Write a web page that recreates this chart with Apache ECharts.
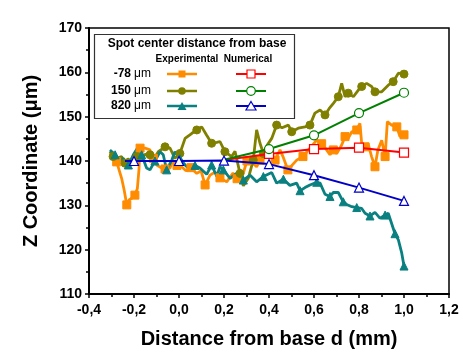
<!DOCTYPE html>
<html><head><meta charset="utf-8">
<script src="https://cdn.jsdelivr.net/npm/echarts@6/dist/echarts.min.js"></script>
<style>html,body{margin:0;padding:0;background:#fff}#c{width:474px;height:356px}</style>
</head><body><div id="c"></div>
<script>
// ---- data ----
const xTicks = [-0.4, -0.2, 0.0, 0.2, 0.4, 0.6, 0.8, 1.0, 1.2];
const yTicks = [110, 120, 130, 140, 150, 160, 170];

const expM78X = [-0.298,-0.277,-0.255,-0.244,-0.232,-0.222,-0.210,-0.196,-0.185,-0.178,-0.173,-0.151,-0.129,-0.114,-0.099,-0.077,-0.062,-0.040,-0.027,-0.009,0.009,0.031,0.053,0.079,0.098,0.116,0.138,0.160,0.182,0.212,0.240,0.258,0.271,0.284,0.302,0.329,0.345,0.360,0.390,0.404,0.427,0.449,0.462,0.484,0.502,0.523,0.551,0.582,0.612,0.634,0.656,0.671,0.686,0.701,0.723,0.738,0.752,0.768,0.790,0.804,0.812,0.827,0.840,0.856,0.871,0.884,0.901,0.916,0.926,0.945,0.968,0.982,1.0];
const expM78Y = [142.1,139.8,136.1,133.5,130.1,131.2,131.6,132.3,133.8,138.0,142.9,142.9,142.5,140.6,139.1,138.4,138.2,138.4,140.2,139.0,138.8,137.8,138.5,137.2,137.8,134.6,136.8,137.5,136.2,135.3,137.3,136.0,138.0,137.0,140.0,139.5,138.7,140.2,141.0,142.5,140.2,142.5,141.0,138.0,139.0,140.2,141.0,142.9,144.7,143.9,142.5,141.4,142.5,141.7,143.6,145.5,145.1,146.6,147.0,148.5,144.0,143.2,144.0,141.0,138.7,142.5,144.7,141.0,148.9,148.1,147.7,145.5,145.9];

const exp150X = [-0.307,-0.293,-0.277,-0.255,-0.240,-0.227,-0.209,-0.187,-0.169,-0.151,-0.129,-0.111,-0.092,-0.062,-0.040,-0.018,0.004,0.027,0.056,0.079,0.101,0.123,0.145,0.168,0.182,0.204,0.234,0.249,0.271,0.286,0.308,0.330,0.345,0.360,0.375,0.391,0.412,0.434,0.458,0.486,0.501,0.530,0.560,0.582,0.604,0.627,0.649,0.667,0.686,0.708,0.723,0.738,0.752,0.775,0.797,0.812,0.834,0.856,0.871,0.901,0.930,0.952,0.975,1.0];
const exp150Y = [142.1,141.0,140.6,141.0,139.5,140.5,139.8,141.0,140.0,141.5,141.4,140.5,142.1,143.2,142.9,140.6,141.7,145.1,146.2,147.0,147.7,145.8,144.0,144.2,144.4,142.1,141.0,142.2,137.2,134.4,136.1,140.2,147.0,144.0,141.7,143.5,145.1,148.1,147.5,148.1,146.6,147.4,147.7,148.1,150.8,151.5,150.4,151.8,153.0,154.5,157.5,154.5,155.3,154.5,156.0,156.8,157.5,156.8,155.6,155.6,157.1,157.9,159.8,159.6];

const exp820X = [-0.307,-0.284,-0.270,-0.248,-0.225,-0.203,-0.185,-0.166,-0.144,-0.129,-0.107,-0.084,-0.070,-0.055,-0.032,-0.018,0.004,0.027,0.049,0.071,0.093,0.123,0.145,0.168,0.182,0.197,0.227,0.256,0.286,0.316,0.345,0.375,0.412,0.434,0.464,0.493,0.523,0.538,0.560,0.582,0.612,0.627,0.649,0.671,0.686,0.708,0.730,0.745,0.768,0.790,0.812,0.827,0.849,0.871,0.893,0.916,0.930,0.945,0.960,0.975,0.990,1.0];
const exp820Y = [142.5,141.4,139.8,140.6,139.1,141.4,142.9,141.4,138.4,138.0,140.0,142.1,141.4,138.0,140.2,142.1,140.5,139.1,138.0,139.0,138.4,137.0,139.1,136.5,138.7,138.0,136.1,137.2,135.7,136.8,135.3,136.5,137.4,135.0,135.9,134.5,135.0,133.3,134.0,134.6,135.2,135.0,132.5,132.0,132.9,132.9,130.8,130.2,129.7,129.5,129.3,128.2,127.6,128.4,127.1,127.8,128.2,125.9,123.6,122.2,119.2,116.3];

const numM78X = [0.2, 0.4, 0.6, 0.8, 1.0];
const numM78Y = [140.2, 141.6, 142.7, 143.0, 141.9];
const num150X = [0.2, 0.4, 0.6, 0.8, 1.0];
const num150Y = [140.3, 142.7, 145.8, 150.8, 155.4];
const num820X = [-0.24, -0.2, 0.0, 0.2, 0.4, 0.6, 0.8, 1.0];
const num820Y = [140.0, 140.0, 140.0, 140.1, 139.3, 136.8, 134.0, 131.0];

const rowLabels = ['-78', '150', '820'];
// ---- chart ----
const FONT = '"Liberation Sans", Arial, sans-serif';
const C = {
  o: '#FF8C00', olive: '#808000', teal: '#0A8080',
  red: '#FF0000', green: '#008000', blue: '#0000C8'
};
const zip = (xs, ys) => xs.map((x, i) => [x, ys[i]]);
const fmt = v => (Math.round(v * 10) / 10).toFixed(1).replace('.', ',');

function expSeries(name, xs, ys, color, sym) {
  const n = xs.length;
  return {
    name, type: 'line', data: zip(xs, ys), showAllSymbol: true,
    symbol: (val, p) => (p.dataIndex % 3 === 1 || p.dataIndex === n - 1) ? sym : 'none',
    symbolSize: 8, lineStyle: { color, width: 2.8 },
    itemStyle: { color, borderColor: color }, z: 2, animation: false
  };
}
function numSeries(name, xs, ys, color, sym, firstHidden) {
  return {
    name, type: 'line', data: zip(xs, ys), showAllSymbol: true,
    symbol: (val, p) => (firstHidden && p.dataIndex === 0) ? 'none' : sym,
    symbolSize: 9, lineStyle: { color, width: 2 },
    itemStyle: { color: '#fff', borderColor: color, borderWidth: 1.2 }, z: 3, animation: false
  };
}

const chart = echarts.init(document.getElementById('c'), null, { renderer: 'canvas' });

const lg = [];
lg.push({ type: 'rect', shape: { x: 94.5, y: 34.5, width: 200, height: 84 }, style: { fill: '#fff', stroke: '#333', lineWidth: 1.2 }, z: 10 });
lg.push({ type: 'text', x: 197, y: 44, style: { text: 'Spot center distance from base', font: 'bold 12px ' + FONT, fill: '#000', align: 'center', verticalAlign: 'middle' }, z: 11 });
lg.push({ type: 'text', x: 187, y: 59, style: { text: 'Experimental', font: 'bold 10px ' + FONT, fill: '#000', align: 'center', verticalAlign: 'middle' }, z: 11 });
lg.push({ type: 'text', x: 248, y: 59, style: { text: 'Numerical', font: 'bold 10px ' + FONT, fill: '#000', align: 'center', verticalAlign: 'middle' }, z: 11 });
const rowsY = [74, 91, 106];
const expCols = [C.o, C.olive, C.teal];
const numCols = [C.red, C.green, C.blue];
rowsY.forEach((y, i) => {
  lg.push({ type: 'text', x: 131, y, style: { text: rowLabels[i], font: 'bold 12px ' + FONT, fill: '#000', align: 'right', verticalAlign: 'middle' }, z: 11 });
  lg.push({ type: 'text', x: 134, y, style: { text: 'μm', font: '12px ' + FONT, fill: '#000', align: 'left', verticalAlign: 'middle' }, z: 11 });
  lg.push({ type: 'line', shape: { x1: 167, y1: y, x2: 197, y2: y }, style: { stroke: expCols[i], lineWidth: 2.5 }, z: 11 });
  lg.push({ type: 'line', shape: { x1: 236, y1: y, x2: 266, y2: y }, style: { stroke: numCols[i], lineWidth: 2 }, z: 11 });
});
lg.push({ type: 'rect', shape: { x: 178.5, y: 70.5, width: 7, height: 7 }, style: { fill: C.o }, z: 12 });
lg.push({ type: 'circle', shape: { cx: 182, cy: 91, r: 3.8 }, style: { fill: C.olive }, z: 12 });
lg.push({ type: 'polygon', shape: { points: [[182, 102], [186.5, 110], [177.5, 110]] }, style: { fill: C.teal }, z: 12 });
lg.push({ type: 'rect', shape: { x: 247, y: 70, width: 8, height: 8 }, style: { fill: '#fff', stroke: C.red, lineWidth: 1.2 }, z: 12 });
lg.push({ type: 'circle', shape: { cx: 251, cy: 91, r: 4.3 }, style: { fill: '#fff', stroke: C.green, lineWidth: 1.2 }, z: 12 });
lg.push({ type: 'polygon', shape: { points: [[251, 101.5], [256, 110], [246, 110]] }, style: { fill: '#fff', stroke: C.blue, lineWidth: 1.2 }, z: 12 });

chart.setOption({
  animation: false,
  backgroundColor: '#fff',
  grid: { left: 89, right: 25, top: 28, bottom: 62, show: true, borderColor: '#000', borderWidth: 1.5, containLabel: false },
  xAxis: {
    type: 'value', min: xTicks[0], max: xTicks[xTicks.length - 1], interval: 0.2,
    name: 'Distance from base d (mm)', nameLocation: 'middle', nameGap: 35,
    nameTextStyle: { fontFamily: FONT, fontWeight: 'bold', fontSize: 20, color: '#000' },
    axisLine: { show: true, onZero: false, lineStyle: { color: '#000', width: 2 } },
    axisTick: { show: true, inside: false, length: 4, lineStyle: { color: '#000', width: 1.5 } },
    minorTick: { show: true, splitNumber: 2, length: 3, lineStyle: { color: '#000', width: 1.5 } },
    splitLine: { show: false },
    axisLabel: { formatter: fmt, fontFamily: FONT, fontWeight: 'bold', fontSize: 14, color: '#000', margin: 9 }
  },
  yAxis: {
    type: 'value', min: yTicks[0], max: yTicks[yTicks.length - 1], interval: 10,
    name: 'Z Coordinate (μm)', nameLocation: 'middle', nameGap: 48, nameRotate: 90,
    nameTextStyle: { fontFamily: FONT, fontWeight: 'bold', fontSize: 20, color: '#000' },
    axisLine: { show: true, onZero: false, lineStyle: { color: '#000', width: 2 } },
    axisTick: { show: true, inside: false, length: 4, lineStyle: { color: '#000', width: 1.5 } },
    minorTick: { show: true, splitNumber: 2, length: 3, lineStyle: { color: '#000', width: 1.5 } },
    splitLine: { show: false },
    axisLabel: { fontFamily: FONT, fontWeight: 'bold', fontSize: 14, color: '#000', margin: 7 }
  },
  series: [
    numSeries('num -78', numM78X, numM78Y, C.red, 'rect', true),
    numSeries('num 150', num150X, num150Y, C.green, 'circle', true),
    expSeries('exp -78', expM78X, expM78Y, C.o, 'rect'),
    expSeries('exp 150', exp150X, exp150Y, C.olive, 'circle'),
    expSeries('exp 820', exp820X, exp820Y, C.teal, 'triangle'),
    numSeries('num 820', num820X, num820Y, C.blue, 'triangle', true)
  ],
  graphic: lg
});
</script></body></html>
